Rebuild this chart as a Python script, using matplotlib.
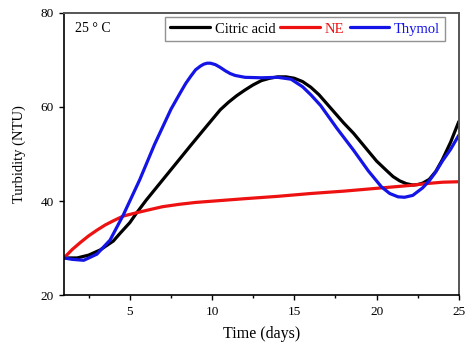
import matplotlib
matplotlib.use("Agg")
import matplotlib.pyplot as plt
from matplotlib.ticker import MultipleLocator

plt.rcParams['font.family'] = ['Liberation Serif', 'DejaVu Serif']

citric_x = [1, 1.8, 2.5, 3.2, 4, 4.4, 5, 5.4, 6, 7, 8, 8.65, 9.5, 10, 10.5, 11, 11.5, 12, 12.5,
            13, 13.5, 14, 14.5, 15, 15.5, 16, 16.5, 17, 18, 18.6, 19.5, 20, 20.3, 20.6, 21, 21.4,
            21.8, 22.2, 22.5, 22.8, 23.2, 23.6, 24, 24.5, 25]
citric_y = [27.9, 27.9, 28.5, 29.6, 31.5, 33.1, 35.4, 37.4, 40.2, 44.5, 48.8, 51.6, 55.2, 57.3,
            59.4, 61.0, 62.4, 63.6, 64.7, 65.6, 66.1, 66.4, 66.4, 66.1, 65.4, 64.2, 62.6, 60.6,
            56.6, 54.4, 50.6, 48.5, 47.5, 46.5, 45.2, 44.3, 43.7, 43.4, 43.5, 43.8, 44.6, 46.3,
            48.8, 52.5, 56.9]

ne_x = [1, 1.5, 2, 2.5, 3, 3.5, 4, 4.6, 5.4, 6, 7, 8, 9, 10.5, 12, 14, 16, 18, 20, 22, 23, 24, 25]
ne_y = [27.9, 29.7, 31.2, 32.6, 33.8, 34.9, 35.8, 36.8, 37.5, 38.0, 38.8, 39.3, 39.7, 40.1, 40.5,
        41.0, 41.6, 42.1, 42.7, 43.3, 43.7, 44.0, 44.1]

thymol_x = [1, 1.5, 2.2, 3, 3.8, 4.6, 5.6, 6.5, 7.5, 8.05, 8.4, 8.7, 9.0, 9.3, 9.5, 9.7, 9.9,
            10.2, 10.5, 10.8, 11.1, 11.4, 12, 13, 14, 14.8, 15.5, 16, 16.6, 17.6, 18.6, 19.5,
            20.3, 20.8, 21.3, 21.7, 22.2, 22.8, 23.2, 23.6, 24, 24.5, 25]
thymol_y = [27.9, 27.6, 27.4, 28.7, 31.7, 37.0, 44.5, 52.0, 59.5, 62.9, 65.0, 66.5, 67.9, 68.7,
            69.1, 69.3, 69.3, 69.0, 68.4, 67.7, 67.1, 66.7, 66.3, 66.2, 66.3, 65.9, 64.3, 62.6,
            60.3, 55.4, 50.8, 46.4, 43.0, 41.6, 40.9, 40.8, 41.2, 42.8, 44.3, 46.2, 48.5, 51.0,
            54.0]

fig = plt.figure(figsize=(4.74, 3.48), dpi=100)
ax = fig.add_axes([0.135, 0.152, 0.833, 0.811])

lw = 2.3
kw = dict(lw=lw, solid_joinstyle='round', solid_capstyle='round')
ax.plot(citric_x, citric_y, color='black', label='Citric acid', **kw)
ax.plot(ne_x, ne_y, color='#ee1111', label='NE', **kw)
ax.plot(thymol_x, thymol_y, color='#1414e6', label='Thymol', **kw)

ax.set_xlim(1, 25)
ax.set_ylim(20, 80)
ax.set_xticks([5, 10, 15, 20, 25])
ax.set_yticks([20, 40, 60, 80])
ax.xaxis.set_minor_locator(MultipleLocator(2.5))
ax.tick_params(which='major', direction='out', length=3.5, width=1, labelsize=9.5, pad=4)
ax.tick_params(which='minor', direction='out', length=2, width=1)
for s in ['left', 'bottom']:
    ax.spines[s].set_linewidth(1.2)
    ax.spines[s].set_color('black')
for s in ['right', 'top']:
    ax.spines[s].set_linewidth(1.4)
    ax.spines[s].set_color('#555555')

ax.set_xlabel('Time (days)', fontsize=11.5, labelpad=6)
ax.set_ylabel('Turbidity (NTU)', fontsize=10.5, labelpad=10)

ax.text(0.028, 0.945, '25 ° C', transform=ax.transAxes, fontsize=10, va='center', ha='left')

leg = ax.legend(loc='upper right', bbox_to_anchor=(0.973, 0.995), ncol=3, fontsize=10.5,
                frameon=True, fancybox=False, edgecolor='#777777', handlelength=2.7,
                columnspacing=0.35, handletextpad=0.35, borderpad=0.35, borderaxespad=0.2)
leg.get_frame().set_linewidth(1.0)
for t, c in zip(leg.get_texts(), ['black', '#ee1111', '#1414e6']):
    t.set_color(c)

fig.savefig('out.png', dpi=100)
